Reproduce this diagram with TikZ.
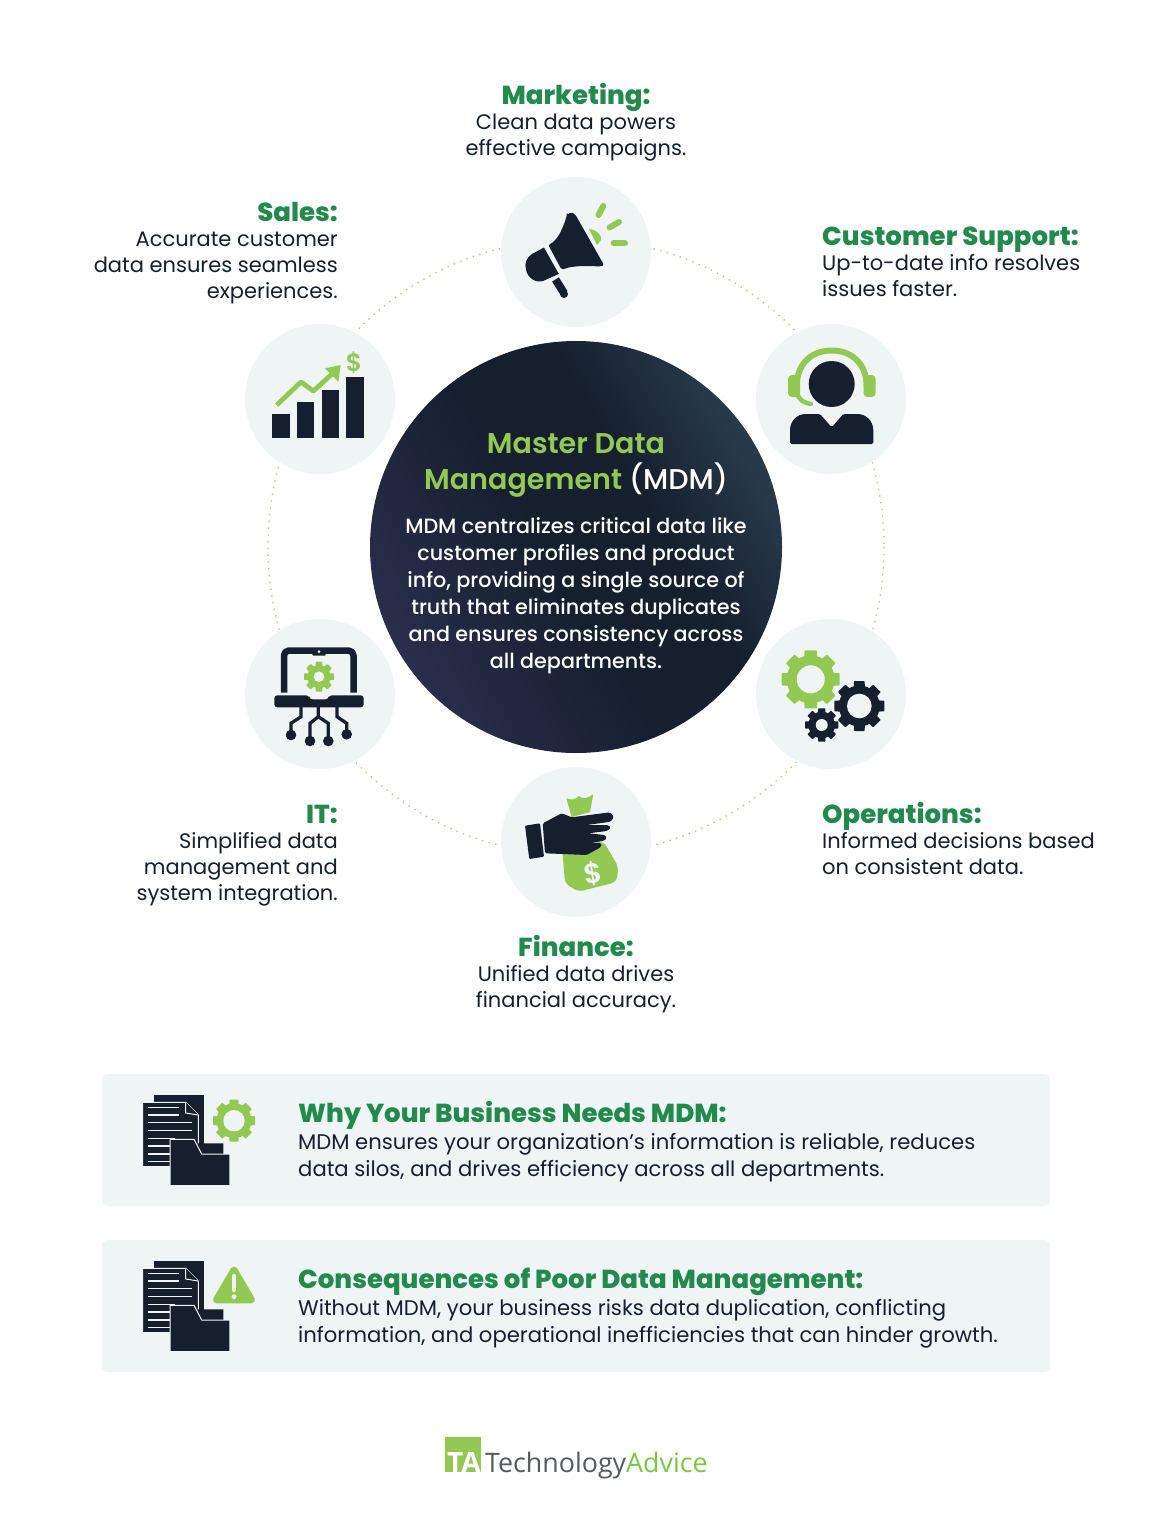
\documentclass[tikz,border=0pt]{standalone}
\usepackage{fontspec}
\setmainfont{Poppins}
\newfontfamily\headfont{Poppins ExtraBold}
\newfontfamily\semifont{Poppins SemiBold}
\newfontfamily\midfont{Poppins Medium}
\newfontfamily\logofont{Open Sans}
\usetikzlibrary{calc}
\definecolor{inkdark}{HTML}{151F2E}
\definecolor{leafgreen}{HTML}{93C952}
\definecolor{titlegreen}{HTML}{218A4C}
\definecolor{panelgrey}{HTML}{EFF5F5}
\definecolor{ringgreen}{HTML}{A9D070}
\definecolor{orbblue}{HTML}{2B2E4D}
\definecolor{orbsteel}{HTML}{283A4A}
\definecolor{orbteal}{HTML}{1E3A38}
\definecolor{logogrey}{HTML}{555A5E}
\definecolor{logogreen}{HTML}{7CC544}
\pgfdeclarehorizontalshading{orbglow}{100bp}{color(0bp)=(orbblue); color(24bp)=(orbblue); color(47bp)=(inkdark); color(60bp)=(inkdark); color(74bp)=(orbsteel); color(82bp)=(orbteal); color(100bp)=(orbteal)}
\newcommand{\topline}{\rule{0pt}{16pt}}
\tikzset{
    x=1pt, y=-1pt,
    iconback/.style={fill=panelgrey},
    darkpart/.style={fill=inkdark},
    lightpart/.style={fill=leafgreen},
    darkline/.style={draw=inkdark, line cap=round, line join=round},
    lightline/.style={draw=leafgreen, line cap=round, line join=round},
    blurb/.style={inner sep=0pt, text=inkdark, font=\fontsize{21}{26}\selectfont},
    blurbtitle/.style={inner sep=0pt, anchor=base, text=titlegreen, font=\headfont\fontsize{26}{30}\selectfont},
    panelbody/.style={inner sep=0pt, anchor=north west, align=left, text=inkdark, font=\fontsize{21.15}{27}\selectfont}
}
\newcommand{\cogwheel}[7]{
    \begin{scope}[shift={(#1,#2)}]
        \pgfmathsetmacro{\toothw}{0.27*#3}
        \fill[#6] (0,0) circle[radius=#4];
        \foreach \a in {0,45,...,315} {
            \fill[#6, rotate=\a, rounded corners=0.6pt] (-\toothw,0) -- (-0.78*\toothw,#3) -- (0.78*\toothw,#3) -- (\toothw,0) -- cycle;
        }
        \fill[#7] (0,0) circle[radius=#5];
    \end{scope}
}
\newcommand{\filesicon}[1]{
    \begin{scope}[shift={(0,#1)}]
        \fill[darkpart] (154.3,1095) rectangle (204.3,1145);
        \draw[darkpart, draw=panelgrey, line width=1pt] (142.7,1102.3) -- (185.7,1102.3) -- (198.3,1115) -- (198.3,1166.7) -- (142.7,1166.7) -- cycle;
        \draw[darkpart, draw=panelgrey, line width=1pt, line join=round] (185.7,1102.3) -- (185.7,1113) -- (198.3,1115);
        \foreach \ly/\lx in {1107.3/179.3, 1115/179.3, 1122.7/191.7, 1130.7/191.7, 1138.3/175, 1146/175, 1154/175, 1161.7/175} {
            \draw[panelgrey, line width=1.5pt] (148.3,\ly) -- (\lx,\ly);
        }
        \fill[darkpart] (195,1143.3) -- (223.3,1143.3) -- (223.3,1154) -- (200,1154) -- cycle;
        \draw[darkpart, draw=panelgrey, line width=1pt] (170,1139.3) -- (194,1139.3) -- (201.7,1154) -- (229.8,1154) -- (229.8,1185.5) -- (170,1185.5) -- cycle;
    \end{scope}
}
\begin{document}
\begin{tikzpicture}
    \useasboundingbox (0,0) rectangle (1152,1536);
    \fill[white] (0,0) rectangle (1152,1536);

    \draw[ringgreen, line width=1.3pt, dash pattern=on 1.3pt off 5.5pt] (576,547) circle[radius=308];
    \node[circle, minimum size=412pt, inner sep=0pt, shade, shading=orbglow, shading angle=30] (core) at (576,547) {};

    \fill[iconback] (576,252) circle[radius=75];
    \fill[iconback] (831,399) circle[radius=75];
    \fill[iconback] (831,694) circle[radius=75];
    \fill[iconback] (576,842) circle[radius=75];
    \fill[iconback] (320,694) circle[radius=75];
    \fill[iconback] (320,399) circle[radius=75];

    % megaphone
    \fill[darkpart, rounded corners=2pt] (567,215) -- (571,212) -- (575,214) -- (604,265) -- (601,266.5) .. controls (590,266) and (573,265) .. (561.7,270) -- (548.3,245) .. controls (558,240) and (563,228) .. (567,215) -- cycle;
    \fill[darkpart] (544,247.5) -- (558.8,274) -- (543,281) .. controls (535,283) and (528,278) .. (526,270) .. controls (524,263) and (527,257) .. (532,254) -- cycle;
    \draw[darkline, line width=8pt, line cap=butt] (555.5,279.5) -- (564,293);
    \fill[darkpart] (564,294) circle[radius=4];
    \fill[lightpart] (589,229) .. controls (597,230) and (602,235) .. (601,240) -- (597,245) -- cycle;
    \draw[lightline, line width=6pt] (603.3,206) -- (598.5,215);
    \draw[lightline, line width=6pt] (619,222) -- (609.5,227.5);
    \draw[lightline, line width=6pt] (613.5,243.3) -- (625,243.3);

    % headset
    \fill[darkpart] (831.7,384) circle[radius=23];
    \fill[darkpart, rounded corners=1.5pt] (790,444) -- (790,431.7) .. controls (790,421) and (797,414) .. (807,414) -- (820,414) -- (831.7,427.3) -- (843.3,414) -- (856,414) .. controls (866,414) and (873.3,421) .. (873.3,431.7) -- (873.3,444) -- cycle;
    \draw[lightline, line width=6pt] (796.7,386) .. controls (797,363) and (812,350.5) .. (831.7,350.5) .. controls (851,350.5) and (866.5,363) .. (866.7,386);
    \fill[lightpart, rounded corners=4pt] (788,375) rectangle (800,397);
    \fill[lightpart, rounded corners=4pt] (863.5,375) rectangle (875.7,397);
    \draw[lightline, line width=4.5pt] (797,393) .. controls (799,400) and (804,403) .. (811,404);

    % bars with arrow
    \fill[darkpart] (272.3,414) rectangle (290,437.7);
    \fill[darkpart] (296.7,401.7) rectangle (314.3,437.7);
    \fill[darkpart] (322,390.3) rectangle (339.3,437.7);
    \fill[darkpart] (346.3,377.3) rectangle (363.7,437.7);
    \draw[lightline, line width=4.8pt, line cap=butt] (276.7,405) -- (301,382) -- (313.3,391) -- (332,374);
    \fill[lightpart] (340.7,365) -- (325,368.3) -- (338.3,381.7) -- cycle;
    \node[inner sep=0pt, text=leafgreen, font=\semifont\fontsize{25}{25}\selectfont] (dollarup) at (354,362.5) {\$};

    % laptop
    \draw[darkline, line width=6.5pt, line cap=butt, rounded corners=5pt] (284,692.7) -- (284,650.5) -- (353.5,650.5) -- (353.5,692.7);
    \fill[darkpart] (311,652) -- (327,652) -- (325,655.5) -- (313,655.5) -- cycle;
    \fill[white] (319,651.5) circle[radius=1.5];
    \fill[darkpart, rounded corners=3pt] (274.3,695.3) -- (309,695.3) -- (309.5,699.3) -- (328.5,699.3) -- (329,695.3) -- (363.7,695.3) -- (363.7,707.3) -- (274.3,707.3) -- cycle;
    \cogwheel{319}{676.7}{15}{11.5}{5.3}{leafgreen}{panelgrey}
    \draw[darkline, line width=3.3pt, line cap=butt, line join=miter] (318.3,707) -- (318.3,716.7) -- (310,723.3) -- (310,741);
    \draw[darkline, line width=3.3pt, line cap=butt, line join=miter] (318.3,716.7) -- (328.3,723.3) -- (328.3,741);
    \draw[darkline, line width=3.3pt, line cap=butt, line join=miter] (301,707) -- (301,716.7) -- (291,723.3) -- (291,735);
    \draw[darkline, line width=3.3pt, line cap=butt, line join=miter] (337,707) -- (337,716.7) -- (346.7,723.3) -- (346.7,734);
    \fill[darkpart] (291,735) circle[radius=5.3];
    \fill[darkpart] (310,741) circle[radius=5.3];
    \fill[darkpart] (328.3,741) circle[radius=5.3];
    \fill[darkpart] (346.7,734.3) circle[radius=5.3];

    % gears
    \cogwheel{810.7}{679.3}{29}{24}{14}{leafgreen}{panelgrey}
    \cogwheel{859.3}{706}{25}{20.5}{12.3}{inkdark}{panelgrey}
    \cogwheel{821.7}{725}{16.7}{13.3}{6}{inkdark}{panelgrey}

    % hand with bag
    \fill[lightpart] (566.3,798.3) .. controls (571,800) and (575,800) .. (579,796) .. controls (583,800) and (588,798) .. (593.3,794.3) -- (590,812) -- (571.7,817) -- cycle;
    \fill[lightpart, rounded corners=5pt] (603.3,841) -- (618.3,866.7) -- (616.7,882) -- (578.3,891.7) -- (565,883.3) -- (562.3,850) -- cycle;
    \node[inner sep=0pt, text=panelgrey, rotate=8, font=\semifont\fontsize{28}{28}\selectfont] (dollarbag) at (593,873) {\$};
    \fill[darkpart, rounded corners=1pt] (525,825.7) -- (540,823.3) -- (544,856.7) -- (529.3,859) -- cycle;
    \fill[darkpart, rounded corners=1.5pt] (542.7,823.3) -- (561.7,813.3) -- (571.7,817.3) -- (610,812.3) -- (614,816.7) -- (610.7,821.7) -- (586.7,825) -- (608.3,825) -- (611,828) -- (606.7,831) -- (588.3,833.3) -- (605,835) -- (607,838.3) -- (603.3,841) -- (591.7,842.7) -- (601.7,843.3) -- (601,847) -- (586.7,855) -- (545,853.3) -- cycle;

    \fill[panelgrey, rounded corners=6pt] (102,1074) rectangle (1050,1206);
    \fill[panelgrey, rounded corners=6pt] (102,1240) rectangle (1050,1372);

    \filesicon{0}
    \cogwheel{234}{1120.7}{21}{17.5}{10.7}{leafgreen}{panelgrey}
    \filesicon{166}
    \draw[lightpart, draw=leafgreen, line width=7pt, line join=round] (234,1270) -- (216.5,1299.8) -- (251.5,1299.8) -- cycle;
    \draw[panelgrey, line width=4pt, line cap=round] (234,1275.7) -- (234,1290);
    \fill[panelgrey] (234,1296.7) circle[radius=2.4];

    \node[blurbtitle] (marketingtitle) at (576,104.5) {Marketing:};
    \node[blurb, anchor=north, align=center] (marketingbody) at (576,113) {\topline Clean data powers\\effective campaigns.};
    \node[blurbtitle, anchor=base east] (salestitle) at (338,221) {Sales:};
    \node[blurb, anchor=north east, align=right] (salesbody) at (338,230) {\topline Accurate customer\\data ensures seamless\\experiences.};
    \node[blurbtitle, anchor=base west] (supporttitle) at (822,245) {Customer Support:};
    \node[blurb, anchor=north west, align=left] (supportbody) at (822,254) {\topline Up-to-date info resolves\\issues faster.};
    \node[blurbtitle, anchor=base west] (operationstitle) at (822,823) {Operations:};
    \node[blurb, anchor=north west, align=left] (operationsbody) at (822,832) {\topline Informed decisions based\\on consistent data.};
    \node[blurbtitle, anchor=base east] (ittitle) at (338,823) {IT:};
    \node[blurb, anchor=north east, align=right] (itbody) at (338,832) {\topline Simplified data\\management and\\system integration.};
    \node[blurbtitle] (financetitle) at (576,956) {Finance:};
    \node[blurb, anchor=north, align=center] (financebody) at (576,965) {\topline Unified data drives\\financial accuracy.};

    \node[inner sep=0pt, anchor=base, text=leafgreen, font=\semifont\fontsize{28.6}{36}\selectfont] (coretitle) at (576,453) {Master Data};
    \node[inner sep=0pt, anchor=base, font=\semifont\fontsize{28.6}{36}\selectfont, text=leafgreen] (coresub) at (576,489) {Management {\midfont\color{white} (MDM)}};
    \node[inner sep=0pt, anchor=north, align=center, text=white, font=\midfont\fontsize{20.7}{27}\selectfont] (corebody) at (576,517) {\topline MDM centralizes critical data like\\customer profiles and product\\info, providing a single source of\\truth that eliminates duplicates\\and ensures consistency across\\all departments.};

    \node[blurbtitle, anchor=base west] (whytitle) at (298,1122) {Why Your Business Needs MDM:};
    \node[panelbody] (whybody) at (298,1133) {\topline MDM ensures your organization’s information is reliable, reduces\\data silos, and drives efficiency across all departments.};
    \node[blurbtitle, anchor=base west] (poortitle) at (298,1288) {Consequences of Poor Data Management:};
    \node[panelbody] (poorbody) at (298,1299) {\topline Without MDM, your business risks data duplication, conflicting\\information, and operational inefficiencies that can hinder growth.};

    \fill[leafgreen] (445,1437) -- (481,1437) -- (481,1472) -- (445,1472) -- cycle;
    \node[inner sep=0pt, anchor=base, text=white, font=\logofont\bfseries\fontsize{28}{28}\selectfont] (logomark) at (464,1472) {TA};
    \node[inner sep=0pt, anchor=base west, font=\logofont\fontsize{26.8}{27}\selectfont, text=logogrey] (logotext) at (485,1472) {Technology\textcolor{logogreen}{Advice}};
\end{tikzpicture}
\end{document}
